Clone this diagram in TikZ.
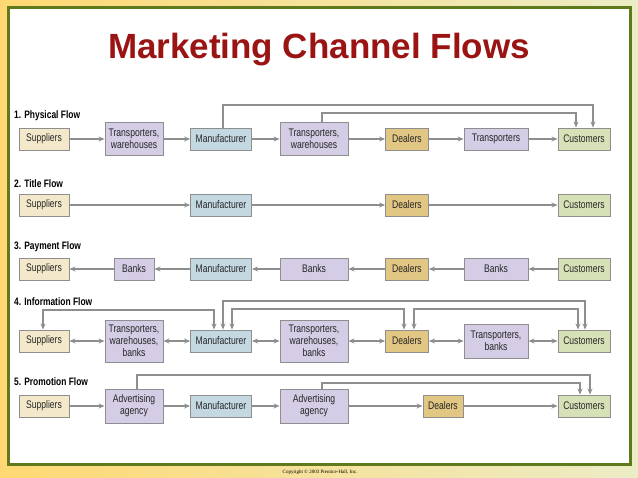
\documentclass[tikz,border=0pt]{standalone}
\usepackage{fontspec}
\setmainfont{Liberation Sans}
\newfontfamily\cond[FakeStretch=0.78]{Liberation Sans}
\newfontfamily\copyf{Liberation Serif}
\usetikzlibrary{arrows.meta}
\definecolor{frameg}{HTML}{5E7A1C}
\definecolor{ttl}{HTML}{9A1414}
\definecolor{csup}{HTML}{F3E9CA}
\definecolor{cpur}{HTML}{D5CCE6}
\definecolor{cman}{HTML}{C4D8E2}
\definecolor{cdea}{HTML}{E2C683}
\definecolor{ccus}{HTML}{D7E1B8}
\definecolor{lgr}{HTML}{8E8E8E}
\begin{document}
\begin{tikzpicture}[x=1pt,y=-1pt,
  bx/.style={draw=lgr,line width=0.9pt,font=\cond\fontsize{11}{12}\selectfont,align=center,inner sep=1pt,minimum height=22,text=black!85},
  sup/.style={bx,fill=csup,minimum width=50},
  pur/.style={bx,fill=cpur,minimum width=58},
  man/.style={bx,fill=cman,minimum width=61},
  dea/.style={bx,fill=cdea,minimum width=43},
  cus/.style={bx,fill=ccus,minimum width=52},
  arr/.style={draw=lgr,line width=1.3pt,-{Stealth[length=6pt,width=5pt]}},
  darr/.style={draw=lgr,line width=1.3pt,{Stealth[length=6pt,width=5pt]}-{Stealth[length=6pt,width=5pt]}},
  lab/.style={font=\cond\bfseries\fontsize{10.8}{11}\selectfont,anchor=west,inner sep=0pt}]
\shade[left color=yellow!45!orange!55,right color=olive!15!white] (0,0) rectangle (638,478);
\fill[white] (8,8) rectangle (630,465);
\draw[frameg,line width=3pt] (8,8) rectangle (630,465);
\useasboundingbox (0,0) rectangle (638,478);
\node[font=\bfseries\fontsize{35}{38}\selectfont,text=ttl] (title) at (319,50) {Marketing Channel Flows};
\node[font=\copyf\fontsize{5}{6}\selectfont] (copy) at (320,472) {Copyright © 2003 Prentice-Hall, Inc.};
% row 1
\node[lab] (l1) at (14,116) {1. Physical Flow};
\node[sup] (a1) at (44,139) {Suppliers};
\node[pur,minimum height=33] (a2) at (134,139) {Transporters,\\warehouses};
\node[man] (a3) at (221,139) {Manufacturer};
\node[pur,minimum height=33,minimum width=68] (a4) at (314,139) {Transporters,\\warehouses};
\node[dea] (a5) at (407,139) {Dealers};
\node[pur,minimum width=64] (a6) at (496,139) {Transporters};
\node[cus] (a7) at (584,139) {Customers};
\foreach \p/\q in {a1/a2,a2/a3,a3/a4,a4/a5,a5/a6,a6/a7} \draw[arr] (\p) -- (\q);
\draw[arr] ([xshift=2]a3.north) |- (593,105) coordinate (t1) -- (t1 |- a7.north);
\draw[arr] ([xshift=8]a4.north) |- (576,113) coordinate (t2) -- (t2 |- a7.north);
% row 2
\node[lab] (l2) at (14,184) {2. Title Flow};
\node[sup] (b1) at (44,205) {Suppliers};
\node[man] (b3) at (221,205) {Manufacturer};
\node[dea] (b5) at (407,205) {Dealers};
\node[cus] (b7) at (584,205) {Customers};
\foreach \p/\q in {b1/b3,b3/b5,b5/b7} \draw[arr] (\p) -- (\q);
% row 3
\node[lab] (l3) at (14,247) {3. Payment Flow};
\node[sup] (c1) at (44,269) {Suppliers};
\node[pur,minimum width=40] (c2) at (134,269) {Banks};
\node[man] (c3) at (221,269) {Manufacturer};
\node[pur,minimum width=68] (c4) at (314,269) {Banks};
\node[dea] (c5) at (407,269) {Dealers};
\node[pur,minimum width=64] (c6) at (496,269) {Banks};
\node[cus] (c7) at (584,269) {Customers};
\foreach \p/\q in {c2/c1,c3/c2,c4/c3,c5/c4,c6/c5,c7/c6} \draw[arr] (\p) -- (\q);
% row 4
\node[lab] (l4) at (14,302) {4. Information Flow};
\node[sup] (d1) at (44,341) {Suppliers};
\node[pur,minimum height=42] (d2) at (134,341) {Transporters,\\warehouses,\\banks};
\node[man] (d3) at (221,341) {Manufacturer};
\node[pur,minimum height=42,minimum width=68] (d4) at (314,341) {Transporters,\\warehouses,\\banks};
\node[dea] (d5) at (407,341) {Dealers};
\node[pur,minimum height=34,minimum width=64] (d6) at (496,341) {Transporters,\\banks};
\node[cus] (d7) at (584,341) {Customers};
\foreach \p/\q in {d1/d2,d2/d3,d3/d4,d4/d5,d5/d6,d6/d7} \draw[darr] (\p) -- (\q);
\draw[darr] ([xshift=-1]d1.north) |- (214,310) coordinate (u1) -- (u1 |- d3.north);
\draw[darr] ([xshift=2]d3.north) |- (585,301) coordinate (u2) -- (u2 |- d7.north);
\draw[darr] ([xshift=11]d3.north) |- (404,309) coordinate (u3) -- (u3 |- d5.north);
\draw[darr] ([xshift=7]d5.north) |- (578,309) coordinate (u4) -- (u4 |- d7.north);
% row 5
\node[lab] (l5) at (14,382) {5. Promotion Flow};
\node[sup] (e1) at (44,406) {Suppliers};
\node[pur,minimum height=34] (e2) at (134,406) {Advertising\\agency};
\node[man] (e3) at (221,406) {Manufacturer};
\node[pur,minimum height=34,minimum width=68] (e4) at (314,406) {Advertising\\agency};
\node[dea,minimum width=40] (e5) at (443,406) {Dealers};
\node[cus] (e7) at (584,406) {Customers};
\foreach \p/\q in {e1/e2,e2/e3,e3/e4,e4/e5,e5/e7} \draw[arr] (\p) -- (\q);
\draw[arr] ([xshift=3]e2.north) |- (590,375) coordinate (v1) -- (v1 |- e7.north);
\draw[arr] ([xshift=8]e4.north) |- (580,383) coordinate (v2) -- (v2 |- e7.north);
\end{tikzpicture}
\end{document}
